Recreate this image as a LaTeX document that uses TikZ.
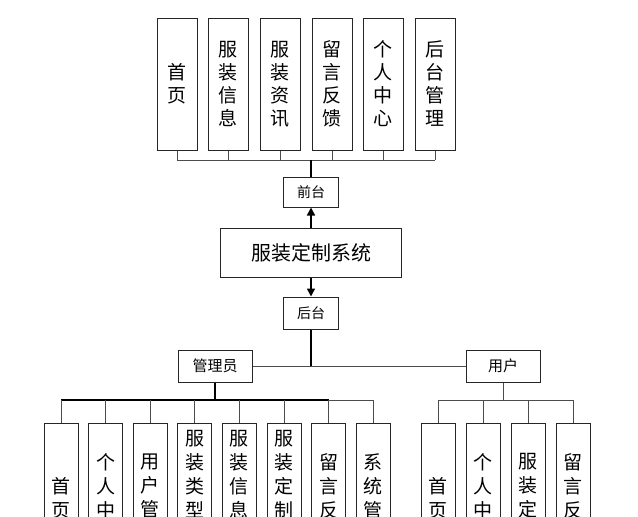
\documentclass[tikz,border=0pt]{standalone}
\usepackage{fontspec}
\setmainfont{Noto Sans CJK SC}
\usetikzlibrary{arrows.meta}
\begin{document}
\begin{tikzpicture}[x=1pt,y=-1pt,
  box/.style={draw=black!85,line width=1pt,fill=white,inner sep=0pt,align=center},
  vbox/.style={box,minimum width=40pt,minimum height=132pt,font=\fontsize{19}{23}\selectfont},
  bbox/.style={box,minimum width=34pt,minimum height=150pt,font=\fontsize{19}{24}\selectfont},
  thin/.style={draw=black!70,line width=0.8pt},
  thick/.style={draw=black,line width=1.6pt},
  arr/.style={thick,-{Triangle[length=8pt,width=8pt]}}]
\useasboundingbox (0,0) rectangle (638,517);
\clip (0,0) rectangle (638,517);
% top
\foreach \x/\t [count=\i] in {177/首\\页,228/服\\装\\信\\息,280/服\\装\\资\\讯,332/留\\言\\反\\馈,383/个\\人\\中\\心,435/后\\台\\管\\理}
  \node[vbox] (t\i) at (\x,84) {\t};
\coordinate (tb) at (311,160);
\foreach \i in {1,...,6} \draw[thin] (t\i.south) -- (t\i.south |- tb);
\draw[thin] (t1.south |- tb) -- (t6.south |- tb);
\node[box,minimum width=55pt,minimum height=30pt,font=\fontsize{14}{16}\selectfont] (qt) at (311,192) {前台};
\node[box,minimum width=181pt,minimum height=49pt,font=\fontsize{20}{24}\selectfont] (sys) at (311,252.5) {服装定制系统};
\node[box,minimum width=55pt,minimum height=32pt,font=\fontsize{14}{16}\selectfont] (ht) at (311,313) {后台};
\draw[thick] (qt.north) -- (tb);
\draw[arr] (sys.north) -- (qt.south);
\draw[arr] (sys.south) -- (ht.north);
% admin/user
\node[box,minimum width=74pt,minimum height=32pt,font=\fontsize{15}{18}\selectfont] (adm) at (215,366) {管理员};
\node[box,minimum width=74pt,minimum height=32pt,font=\fontsize{15}{18}\selectfont] (usr) at (503,366) {用户};
\coordinate (j) at (311,366);
\draw[thick] (ht.south) -- (j);
\draw[thin] (adm.east) -- (usr.west);
% admin children
\foreach \t [count=\i] in {首\\页,个\\人\\中\\心,用\\户\\管\\理,服\\装\\类\\型\\管\\理,服\\装\\信\\息\\管\\理,服\\装\\定\\制\\管\\理,留\\言\\反\\馈,系\\统\\管\\理}
  \node[bbox] (a\i) at ({61+44.6*(\i-1)},498) {\t};
\coordinate (ab) at (215,400);
\draw[thick] (adm.south) -- (ab);
\draw[thick] (a1.north |- ab) -- (a7.north |- ab);
\draw[thin] (a7.north |- ab) -- (a8.north |- ab);
\foreach \i in {1,...,8} \draw[thin] (a\i.north |- ab) -- (a\i.north);
% user children
\foreach \t [count=\i] in {首\\页,个\\人\\中\\心,服\\装\\定\\制,留\\言\\反\\馈}
  \node[bbox] (u\i) at ({438+45*(\i-1)},498) {\t};
\coordinate (ub) at (503,400);
\draw[thin] (usr.south) -- (ub);
\draw[thin] (u1.north |- ub) -- (u4.north |- ub);
\foreach \i in {1,...,4} \draw[thin] (u\i.north |- ub) -- (u\i.north);
\end{tikzpicture}
\end{document}
